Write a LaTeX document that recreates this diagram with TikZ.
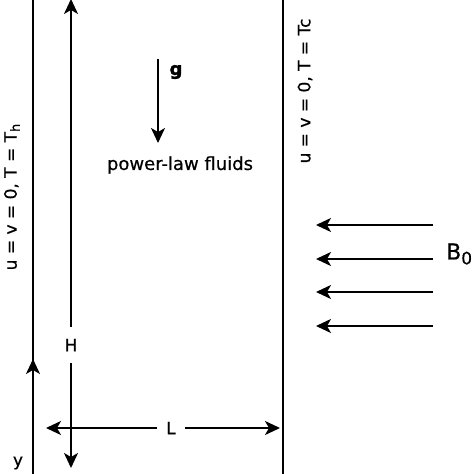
\documentclass[tikz,border=0pt]{standalone}
\usepackage{fontspec}
\setmainfont[FakeBold=0.6]{DejaVu Sans}
\newfontfamily\boldg[FakeBold=1.5]{DejaVu Sans Bold}
\usetikzlibrary{arrows.meta}
\newcommand{\lowsub}[1]{\raisebox{-0.35ex}{\fontsize{13}{14}\selectfont #1}}
\begin{document}
\begin{tikzpicture}[x=1pt,y=-1pt,
  wall/.style={line width=2pt},
  arr/.style={line width=1.8pt,-{Stealth[length=15pt,width=14pt,inset=4pt]}},
  lbl/.style={font=\fontsize{17}{20}\selectfont, inner sep=0pt}]
\useasboundingbox (0,0) rectangle (474,474);
% walls
\coordinate (lwT) at (33,0); \coordinate (lwB) at (33,474);
\coordinate (rwT) at (283,0); \coordinate (rwB) at (283,474);
\draw[wall] (lwT) -- (lwB);
\draw[wall] (rwT) -- (rwB);
% y axis
\coordinate (yTip) at (33,359);
\draw[arr] (lwB) -- (yTip);
\node[lbl] (ylab) at (18,463) {y};
% H
\node[lbl, inner ysep=12pt] (H) at (71,345) {H};
\coordinate (Htop) at (71,-1); \coordinate (Hbot) at (71,468);
\draw[arr] (H.north) -- (Htop);
\draw[arr] (H.south) -- (Hbot);
% L
\node[lbl, inner xsep=9pt] (L) at (171,428) {L};
\coordinate (Lleft) at (46,428); \coordinate (Lright) at (280,428);
\draw[arr] (L.west) -- (Lleft);
\draw[arr] (L.east) -- (Lright);
% gravity
\coordinate (gS) at (158,59); \coordinate (gE) at (158,143);
\draw[arr] (gS) -- (gE);
\node[lbl, font=\fontsize{18}{20}\boldg] (g) at (176,72) {g};
\node[lbl, font=\fontsize{18}{20}\selectfont] (fluid) at (180,165) {power-law fluids};
% boundary labels
\node[lbl, rotate=90] (bcl) at (12,197) {u = v = 0, T = T\lowsub{h}};
\node[lbl, rotate=90] (bcr) at (305,91) {u = v = 0, T = Tc};
% magnetic field
\foreach \i/\yy in {1/225,2/259,3/292,4/326}{
  \coordinate (bs\i) at (433,\yy); \coordinate (be\i) at (316,\yy);
  \draw[arr] (bs\i) -- (be\i);
}
\node[font=\fontsize{22}{24}\selectfont, inner sep=0pt, anchor=west] (B0) at (446,254) {B\raisebox{-0.4ex}{\fontsize{17}{18}\selectfont 0}};
\end{tikzpicture}
\end{document}
